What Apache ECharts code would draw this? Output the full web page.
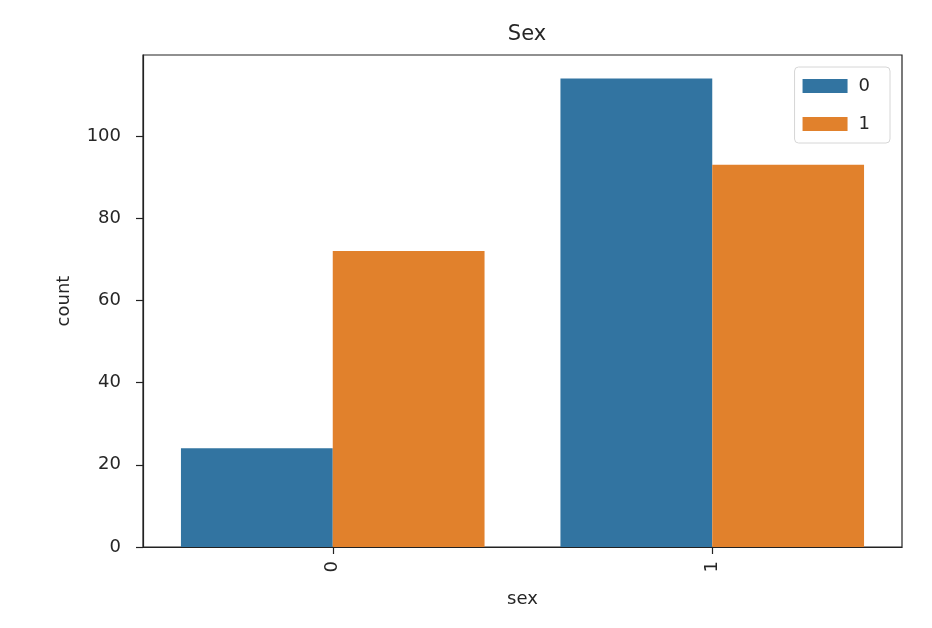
<!DOCTYPE html>
<html>
<head>
<meta charset="utf-8">
<script src="https://cdn.jsdelivr.net/npm/echarts@6/dist/echarts.min.js"></script>
<style>html,body{margin:0;padding:0;background:#fff;}#c{width:932px;height:628px;}</style>
</head>
<body>
<div id="c"></div>
<script>
const categories = ['0', '1'];
const seriesNames = ['0', '1'];
const target0 = [24, 114];
const target1 = [72, 93];
const yTicks = [0, 20, 40, 60, 80, 100];
const yMax = 119.7;

const chart = echarts.init(document.getElementById('c'), null, {renderer: 'canvas'});
const font = 'DejaVu Sans';
const txt = '#262626';
chart.setOption({
  animation: false,
  textStyle: {fontFamily: font},
  title: {
    text: 'Sex', left: 522, top: 19, textAlign: 'center',
    textStyle: {fontFamily: font, fontSize: 21, fontWeight: 'normal', color: txt}
  },
  grid: {left: 143, right: 30, top: 55, bottom: 81, show: true, borderColor: '#222', borderWidth: 1.2, backgroundColor: 'transparent'},
  legend: {
    data: seriesNames, orient: 'vertical', right: 42, top: 67,
    itemWidth: 45, itemHeight: 14, itemGap: 20,
    padding: [10, 20, 10, 8],
    borderColor: '#d6d6d6', borderWidth: 1, borderRadius: 4,
    icon: 'rect',
    textStyle: {fontFamily: font, fontSize: 18, color: txt, padding: [0, 0, 0, 6]}
  },
  xAxis: {
    type: 'category', data: categories,
    name: 'sex', nameLocation: 'middle', nameGap: 43,
    nameTextStyle: {fontFamily: font, fontSize: 18, color: txt},
    axisLine: {show: true, lineStyle: {color: '#222', width: 1.2}},
    axisTick: {show: true, alignWithLabel: true, length: 7, lineStyle: {color: '#222', width: 1.2}},
    axisLabel: {rotate: 90, margin: 14, fontFamily: font, fontSize: 18, color: txt},
    splitLine: {show: false}
  },
  yAxis: {
    type: 'value', min: 0, max: yMax, interval: 20,
    name: 'count', nameLocation: 'middle', nameGap: 70, nameRotate: 90,
    nameTextStyle: {fontFamily: font, fontSize: 18, color: txt},
    axisLine: {show: true, lineStyle: {color: '#222', width: 1.2}},
    axisTick: {show: true, length: 7, lineStyle: {color: '#222', width: 1.2}, customValues: yTicks},
    axisLabel: {margin: 22, fontFamily: font, fontSize: 18, color: txt, customValues: yTicks},
    splitLine: {show: false}
  },
  series: [
    {name: seriesNames[0], type: 'bar', data: target0, barCategoryGap: '20%', barGap: '0%', itemStyle: {color: '#3274a1'}},
    {name: seriesNames[1], type: 'bar', data: target1, barCategoryGap: '20%', barGap: '0%', itemStyle: {color: '#e1812c'}}
  ]
});
</script>
</body>
</html>
